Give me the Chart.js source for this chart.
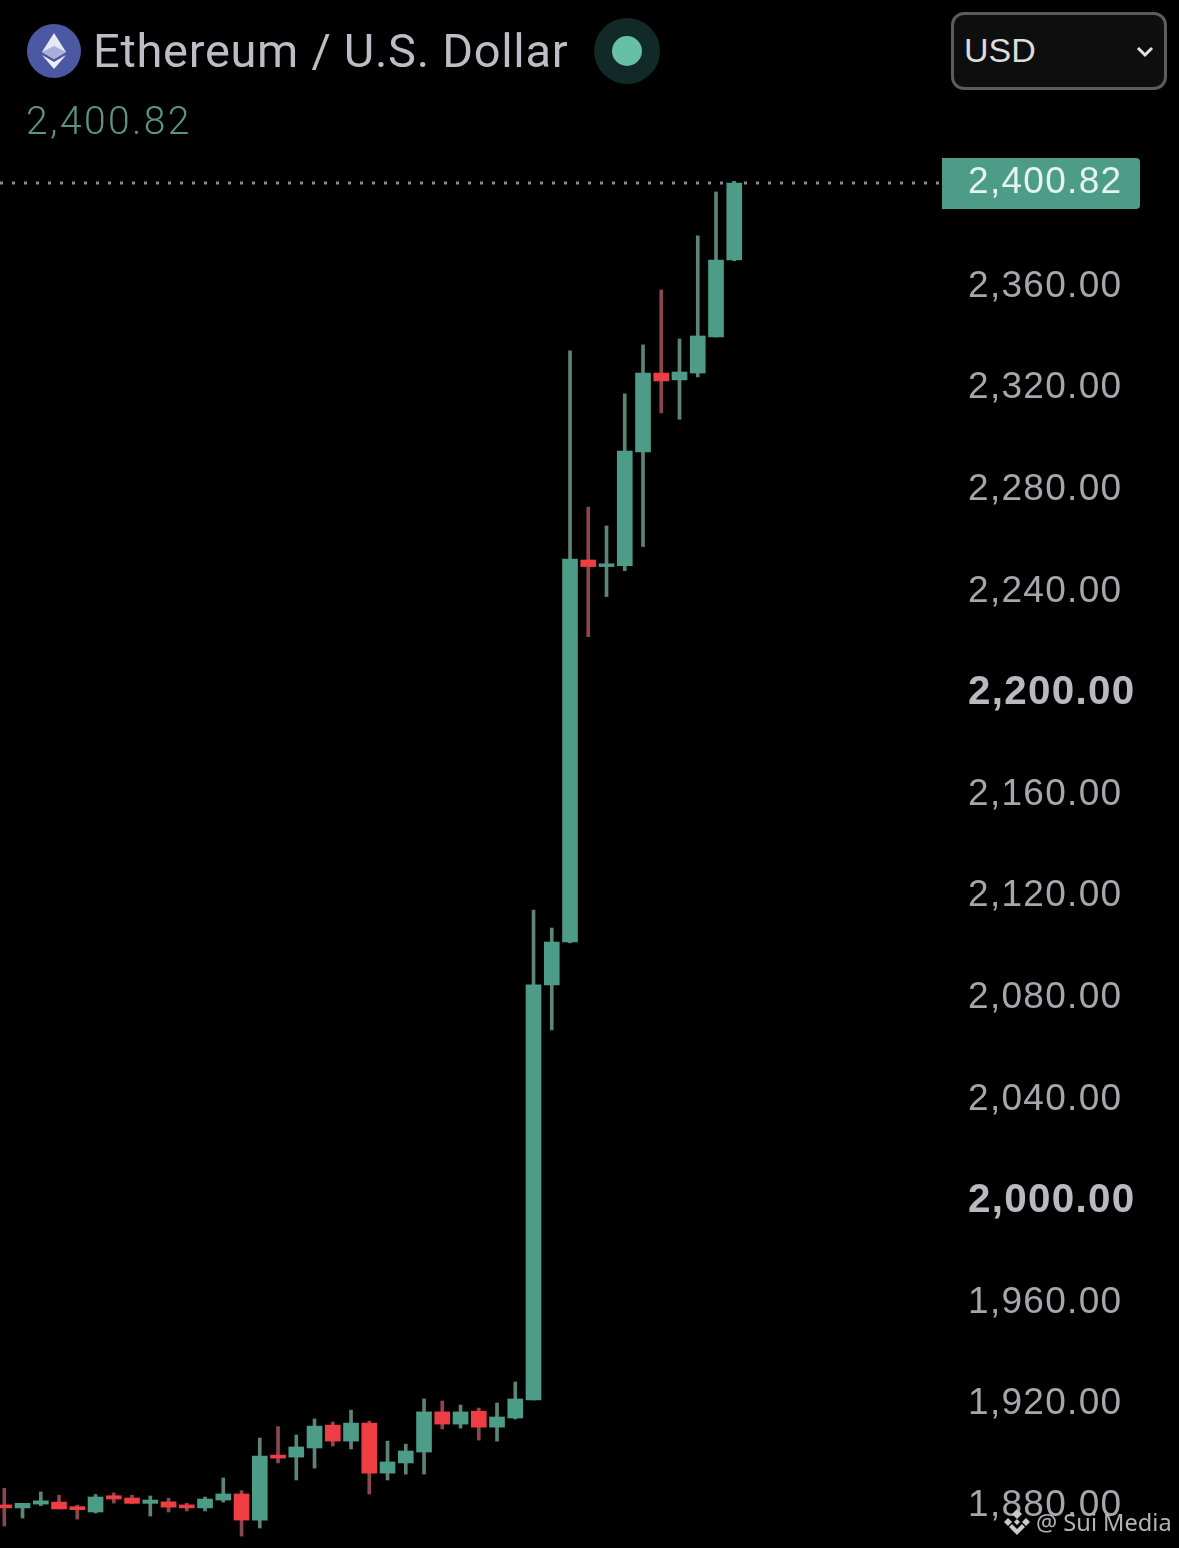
<!DOCTYPE html>
<html>
<head>
<meta charset="utf-8">
<title>Ethereum / U.S. Dollar</title>
<script src="https://cdn.jsdelivr.net/npm/chart.js@4"></script>
<style>
html,body{margin:0;padding:0;background:#000;}
#wrap{position:relative;width:1179px;height:1548px;overflow:hidden;background:#000;}
canvas{position:absolute;left:0;top:0;}
.abs{position:absolute;white-space:nowrap;}
#title{left:93px;top:24px;font:400 47px/54px Roboto,sans-serif;color:#bdbdc5;letter-spacing:.7px;}
#price{left:26px;top:99px;font:300 39px/44px Roboto,sans-serif;color:#5c9484;letter-spacing:2.4px;}
#sel{left:951px;top:12px;width:210px;height:72px;border:3px solid #5c5c5c;border-radius:13px;background:#0e0e0e;}
#usd{left:964px;top:30px;font:400 34px/40px "Liberation Sans",sans-serif;color:#dcdcdc;}
#mark{left:1036px;top:1506px;font:400 23.6px/32px "Noto Sans",sans-serif;color:#b4b4b4;}
</style>
</head>
<body>
<div id="wrap">
<canvas id="c" width="1179" height="1548"></canvas>
<svg class="abs" style="left:26px;top:23px" width="56" height="56" viewBox="0 0 56 56">
  <circle cx="28" cy="28" r="27" fill="#4c58a2"/>
  <polygon points="28,10 16,29 28,36 40,29" fill="#e6e8f6"/>
  <polygon points="28,23 16,29 28,36 40,29" fill="#a9afd8"/>
  <polygon points="16,32 28,46 40,32 28,39" fill="#eef0fa"/>
</svg>
<div class="abs" id="title">Ethereum / U.S. Dollar</div>
<div class="abs" id="price">2,400.82</div>
<svg class="abs" style="left:594px;top:18px" width="66" height="66" viewBox="0 0 66 66">
  <circle cx="33" cy="33" r="33" fill="#122a27"/>
  <circle cx="33" cy="33" r="15" fill="#67bfa6"/>
</svg>
<div class="abs" id="sel"></div>
<div class="abs" id="usd">USD</div>
<svg class="abs" style="left:1136px;top:46px" width="18" height="12" viewBox="0 0 18 12">
  <polyline points="2,2 9,9 16,2" fill="none" stroke="#e4e4e4" stroke-width="3"/>
</svg>
<svg class="abs" style="left:1003px;top:1508px" width="28" height="28" viewBox="0 0 28 28" fill="#c9c9c9">
  <polygon points="14,1 19,6 14,11 9,6" />
  <polygon points="5,10 9,14 5,18 1,14" />
  <polygon points="23,10 27,14 23,18 19,14" />
  <polygon points="14,11 17,14 14,17 11,14" />
  <polygon points="14,27 6,19 9,16 14,21 19,16 22,19" />
</svg>
<div class="abs" id="mark">@ Sui Media</div>
</div>
<script>
const openPrices = [1880.4,1879.2,1880.7,1881.5,1879.7,1877.6,1884.0,1883.1,1881.0,1881.6,1880.4,1879.2,1882.3,1884.7,1874.4,1900.0,1899.2,1902.8,1911.8,1905.5,1912.6,1892.9,1896.9,1901.2,1917.0,1912.2,1917.3,1911.0,1914.6,1921.7,2085.1,2102.0,2252.4,2249.8,2250.2,2294.9,2326.0,2323.3,2326.0,2340.2,2370.5];
const highPrices = [1886.9,1881.0,1885.5,1884.2,1880.3,1884.5,1885.1,1884.2,1883.9,1883.0,1881.0,1883.5,1891.0,1886.0,1906.7,1911.2,1907.9,1914.2,1913.0,1917.7,1913.4,1905.5,1904.3,1922.1,1921.3,1919.7,1918.5,1920.5,1928.8,2114.6,2107.5,2334.7,2273.2,2265.8,2317.8,2337.1,2358.7,2339.4,2380.0,2397.3,2401.5];
const lowPrices = [1872.1,1875.2,1880.1,1878.8,1874.8,1877.2,1881.1,1881.0,1876.0,1877.6,1878.0,1878.0,1881.5,1868.1,1871.3,1896.9,1890.2,1894.9,1903.6,1902.4,1884.7,1890.2,1892.5,1892.5,1910.3,1910.6,1905.9,1905.5,1914.2,1921.7,2067.4,2101.6,2222.2,2238.0,2248.2,2257.7,2310.3,2307.8,2324.5,2340.2,2370.2];
const closePrices = [1879.2,1881.0,1882.0,1878.8,1878.5,1883.5,1882.7,1881.0,1882.3,1879.5,1879.2,1882.7,1884.7,1874.4,1899.6,1898.8,1903.2,1911.4,1905.5,1912.6,1892.9,1897.3,1901.6,1917.0,1912.2,1917.0,1911.0,1915.0,1922.1,2085.1,2102.0,2252.8,2249.8,2250.9,2295.3,2326.0,2322.9,2326.4,2340.6,2370.5,2400.82];
const tickValues = [2360,2320,2280,2240,2200,2160,2120,2080,2040,2000,1960,1920,1880];
const boldTicks = [2200,2000];
const lastPrice = 2400.82;

const UP_BODY = '#4c9c88', DOWN_BODY = '#ee3e43', UP_WICK = '#5e8574', DOWN_WICK = '#8b474f';
const money = v => v.toLocaleString('en-US',{minimumFractionDigits:2,maximumFractionDigits:2});
const isUp = i => closePrices[i] >= openPrices[i];

const setSpacing = {
  id:'setSpacing',
  beforeDraw(chart){ chart.ctx.letterSpacing = '1.3px'; }
};
const priceTag = {
  id:'priceTag',
  afterDraw(chart){
    const c = chart.ctx, y = chart.scales.y.getPixelForValue(lastPrice);
    c.save();
    c.fillStyle = UP_BODY;
    c.beginPath();
    c.roundRect(942, y-25, 198, 51, [0,4,4,0]);
    c.fill();
    c.fillStyle = '#e4f4ef';
    c.font = '37px "Liberation Sans", sans-serif';
    c.textAlign = 'left';
    c.textBaseline = 'middle';
    c.letterSpacing = '1.3px';
    c.fillText(money(lastPrice), 968, y-0.5);
    c.restore();
  }
};

new Chart(document.getElementById('c'), {
  type:'bar',
  data:{
    datasets:[
      {
        label:'Last price', type:'line', order:3,
        data:[{x:-0.2356,y:lastPrice},{x:52.37,y:lastPrice}],
        borderColor:'#8c8c8c', borderWidth:3, borderDash:[3,9], pointRadius:0, fill:false
      },
      {
        label:'Wick', order:2, grouped:false, barThickness:3, borderWidth:0,
        data:openPrices.map((_,i)=>({x:i,y:[lowPrices[i],highPrices[i]]})),
        backgroundColor:ctx=>isUp(ctx.dataIndex)?UP_WICK:DOWN_WICK
      },
      {
        label:'Body', order:1, grouped:false, barThickness:15, borderWidth:0,
        data:openPrices.map((_,i)=>({x:i,y:[openPrices[i],closePrices[i]]})),
        backgroundColor:ctx=>isUp(ctx.dataIndex)?UP_BODY:DOWN_BODY
      }
    ]
  },
  options:{
    responsive:false, animation:false, devicePixelRatio:1,
    layout:{padding:0},
    plugins:{legend:{display:false},tooltip:{enabled:false},title:{display:false}},
    scales:{
      x:{type:'linear',display:false,offset:false,min:-0.2356,max:52.37,grid:{display:false}},
      y:{
        type:'linear',position:'right',offset:false,min:1863.42,max:2472.87,
        border:{display:false},
        grid:{display:false,drawTicks:false},
        afterFit(s){ s.width = 219; s.paddingTop = 0; s.paddingBottom = 0; },
        afterBuildTicks(s){ s.ticks = tickValues.map(v=>({value:v})); },
        ticks:{
          padding:8, labelOffset:0, autoSkip:false,
          callback:v=>money(v),
          font:ctx=>boldTicks.includes(ctx.tick&&ctx.tick.value)
            ?{family:'"Liberation Sans", sans-serif',size:40.4,weight:'bold'}
            :{family:'"Liberation Sans", sans-serif',size:37,weight:'normal'},
          color:ctx=>boldTicks.includes(ctx.tick&&ctx.tick.value)?'#b9b9c0':'#a6a6ac'
        }
      }
    }
  },
  plugins:[setSpacing,priceTag]
});
</script>
</body>
</html>
